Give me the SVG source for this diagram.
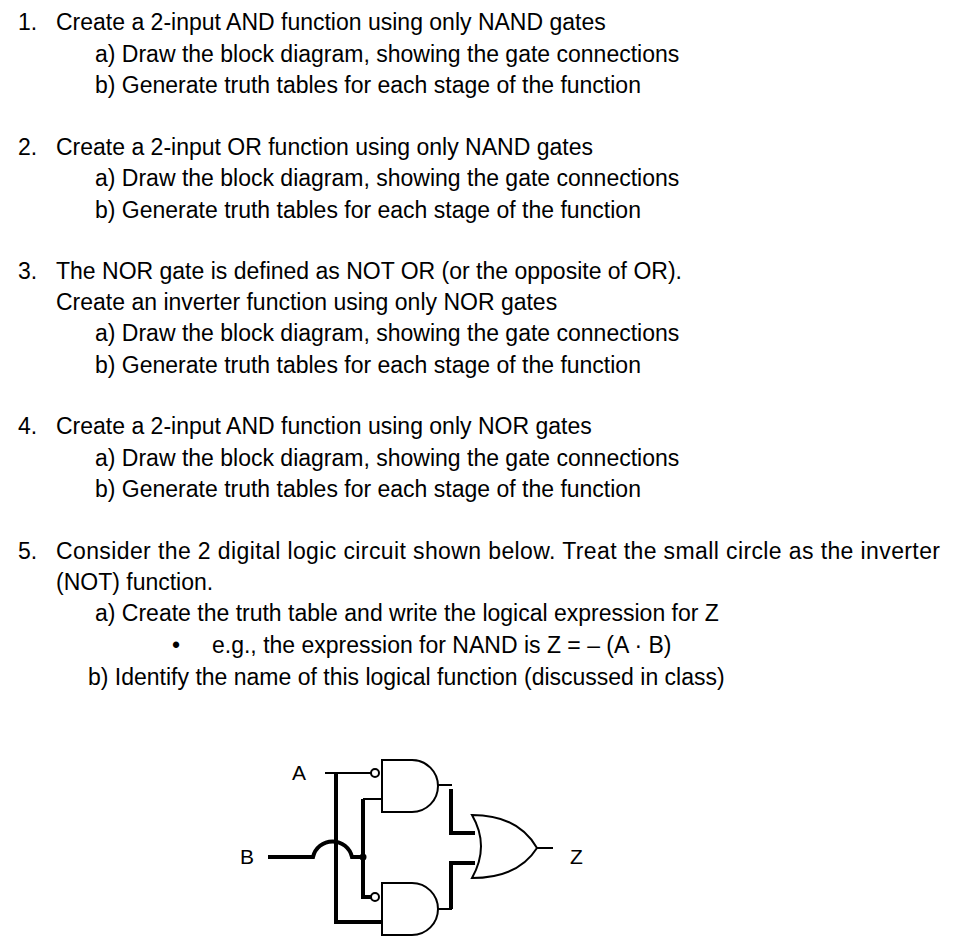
<svg xmlns="http://www.w3.org/2000/svg" width="966" height="944" viewBox="0 0 966 944">
<style>
text{font-family:"Liberation Sans",Arial,sans-serif;font-size:23px;fill:#000}
.g{fill:#fff;stroke:#000;stroke-width:2}
.w{fill:none;stroke:#000;stroke-width:2}
.t{fill:none;stroke:#000;stroke-width:4}
</style>
<rect width="966" height="944" fill="#fff"/>
<g id="text">
<text x="18" y="30">1.</text><text x="56" y="30">Create a 2-input AND function using only NAND gates</text>
<text x="95" y="62">a) Draw the block diagram, showing the gate connections</text>
<text x="95" y="93">b) Generate truth tables for each stage of the function</text>
<text x="18" y="155">2.</text><text x="56" y="155">Create a 2-input OR function using only NAND gates</text>
<text x="95" y="186">a) Draw the block diagram, showing the gate connections</text>
<text x="95" y="218">b) Generate truth tables for each stage of the function</text>
<text x="18" y="279">3.</text><text x="56" y="279">The NOR gate is defined as NOT OR (or the opposite of OR).</text>
<text x="56" y="310">Create an inverter function using only NOR gates</text>
<text x="95" y="341">a) Draw the block diagram, showing the gate connections</text>
<text x="95" y="373">b) Generate truth tables for each stage of the function</text>
<text x="18" y="434">4.</text><text x="56" y="434">Create a 2-input AND function using only NOR gates</text>
<text x="95" y="466">a) Draw the block diagram, showing the gate connections</text>
<text x="95" y="497">b) Generate truth tables for each stage of the function</text>
<text x="18" y="559">5.</text><text x="56" y="559" textLength="884">Consider the 2 digital logic circuit shown below.  Treat the small circle as the inverter</text>
<text x="56" y="590">(NOT) function.</text>
<text x="95" y="621">a)  Create the truth table and write the logical expression for Z</text>
<text x="172" y="653">•</text><text x="212" y="653">e.g., the expression for NAND is Z =  – (A · B)</text>
<text x="88" y="685">b) Identify the name of this  logical function (discussed in class)</text>
<text x="292" y="780" style="font-size:21px">A</text>
<text x="240" y="864" style="font-size:21px">B</text>
<text x="570" y="864" style="font-size:21px">Z</text>
</g>
<g id="connectors">
<path class="w" d="M325 773H371"/>
<path class="t" d="M336 773V922H382"/>
<path class="w" d="M363 799H382"/>
<path class="t" d="M363 799V897H371"/>
<path class="t" d="M268 857H313A20 20 0 0 1 352 857H363"/>
<path class="w" d="M437 785H452"/>
<path class="t" d="M451 789V833H475"/>
<path class="w" d="M437 909H452"/>
<path class="t" d="M451 909V863H475"/>
<path class="w" d="M537 848H553"/>
<circle cx="363" cy="857" r="3.5"/>
</g>
<g id="and1"><path class="g" d="M382 760H412A26 26 0 0 1 412 812H382Z"/><circle class="g" cx="375" cy="773" r="4" stroke-width="1.5"/></g>
<g id="and2"><path class="g" d="M382 883H412A26 26 0 0 1 412 935H382Z"/><circle class="g" cx="375" cy="897" r="4" stroke-width="1.5"/></g>
<g id="or"><path class="g" d="M472 815Q518 815 537 848Q518 878 472 878Q490 846 472 815Z"/></g>
</svg>
